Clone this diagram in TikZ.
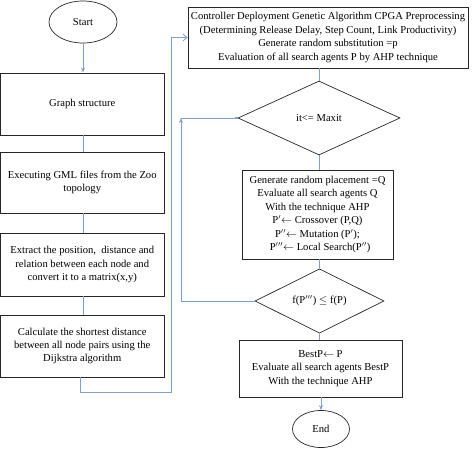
\documentclass[tikz,border=0pt]{standalone}
\usepackage{amsmath}
\usepackage{amssymb}
\usepackage{fontspec}
\setmainfont{Liberation Serif}
\usetikzlibrary{shapes.geometric,arrows.meta}

\definecolor{linkblue}{RGB}{125,160,205}

\tikzset{
  procbox/.style={draw=black!85,line width=0.8pt,rectangle,align=center,inner sep=2pt,font=\fontsize{10.6}{13.4}\selectfont},
  decbox/.style={draw=black!85,line width=0.7pt,diamond,inner sep=0pt,font=\fontsize{10.6}{13}\selectfont},
  termbox/.style={draw=black!85,line width=0.7pt,ellipse,inner sep=0pt,font=\fontsize{10.6}{12}\selectfont},
  link/.style={draw=linkblue,line width=0.8pt}
}

\begin{document}
\begin{tikzpicture}[x=1pt,y=1pt,yscale=-1]
\useasboundingbox (0,0) rectangle (474,450);

%Shape: Ellipse
\node[termbox,minimum width=68,minimum height=42] (start) at (83,22) {Start};
%Shape: Rectangle
\node[procbox,minimum width=163.5,minimum height=62] (graph) at (82.25,104) {Graph structure};
%Shape: Rectangle
\node[procbox,minimum width=163.5,minimum height=61] (gml) at (82.25,182.5) {Executing GML files from the Zoo\\topology};
%Shape: Rectangle
\node[procbox,minimum width=163.5,minimum height=63] (extract) at (82.25,264.5) {Extract the position,\ \ distance and\\relation\ between each node and\\convert it to a matrix(x,y)};
%Shape: Rectangle
\node[procbox,minimum width=163.5,minimum height=62] (calc) at (82.25,346) {Calculate the shortest distance\\between all node pairs using the\\Dijkstra\ algorithm};

%Shape: Rectangle
\node[procbox,minimum width=280,minimum height=61] (ctrl) at (328,37.5) {Controller\ Deployment Genetic Algorithm\ CPGA Preprocessing\\(Determining Release Delay, Step Count,\ Link Productivity)\\Generate random substitution =p\\Evaluation\ of all search agents P by AHP technique};
%Shape: Diamond
\node[decbox,minimum width=162,minimum height=74] (maxit) at (319,118) {it<= Maxit};
%Shape: Rectangle
\node[procbox,minimum width=151,minimum height=89] (genq) at (317.5,214.5) {Generate random placement =Q\\Evaluate all\ search agents Q\\With the technique\ AHP\\P$^{\prime}$$\leftarrow$ Crossover (P,Q)\\P$^{\prime\prime}$$\leftarrow$ Mutation (P$^{\prime}$);\\\ \ P$^{\prime\prime\prime}$$\leftarrow$ Local Search(P$^{\prime\prime}$)};
%Shape: Diamond
\node[decbox,minimum width=129,minimum height=52] (fcomp) at (319.5,301) {f(P$^{\prime\prime\prime}$) $\leq$ f(P)};
%Shape: Rectangle
\node[procbox,minimum width=163,minimum height=57] (best) at (320.5,368.5) {BestP$\leftarrow$ P\\Evaluate all\ search agents BestP\\With the technique\ AHP};
%Shape: Ellipse
\node[termbox,minimum width=57,minimum height=37] (end) at (321,429) {End};

% loop corners
\coordinate (c1) at (171,392);
\coordinate (c2) at (171,37.5);
\coordinate (c3) at (181,118);

%Straight Lines
\draw[link,-{Stealth[length=5pt,width=4pt]}] (start.south) -- (graph.north -| start.south);
\draw[link] (graph.south -| start.south) -- (gml.north -| start.south);
\draw[link] (gml.south -| start.south) -- (extract.north -| start.south);
\draw[link] (extract.south -| start.south) -- (calc.north -| start.south);
\draw[link] ([xshift=-2pt]calc.south) |- (c1) -- (c2);
\draw[link,-{Straight Barb[length=4pt,width=7pt]}] (c2) -- (ctrl.west);

\draw[link] (maxit.north |- ctrl.south) -- (maxit.north);
\draw[link] (maxit.south) -- (maxit.south |- genq.north);
\draw[link] (fcomp.north |- genq.south) -- (fcomp.north);
\draw[link] (fcomp.south) -- (fcomp.south |- best.north);
\draw[link,-{Stealth[length=5pt,width=4pt]}] (end.north |- best.south) -- (end.north);

\draw[link,-{Stealth[length=5pt,width=4pt]}] (fcomp.west) -| (c3);
\draw[link,-{Square[length=2.5pt,width=2.5pt]}] (c3) -- (maxit.west);

\end{tikzpicture}
\end{document}
